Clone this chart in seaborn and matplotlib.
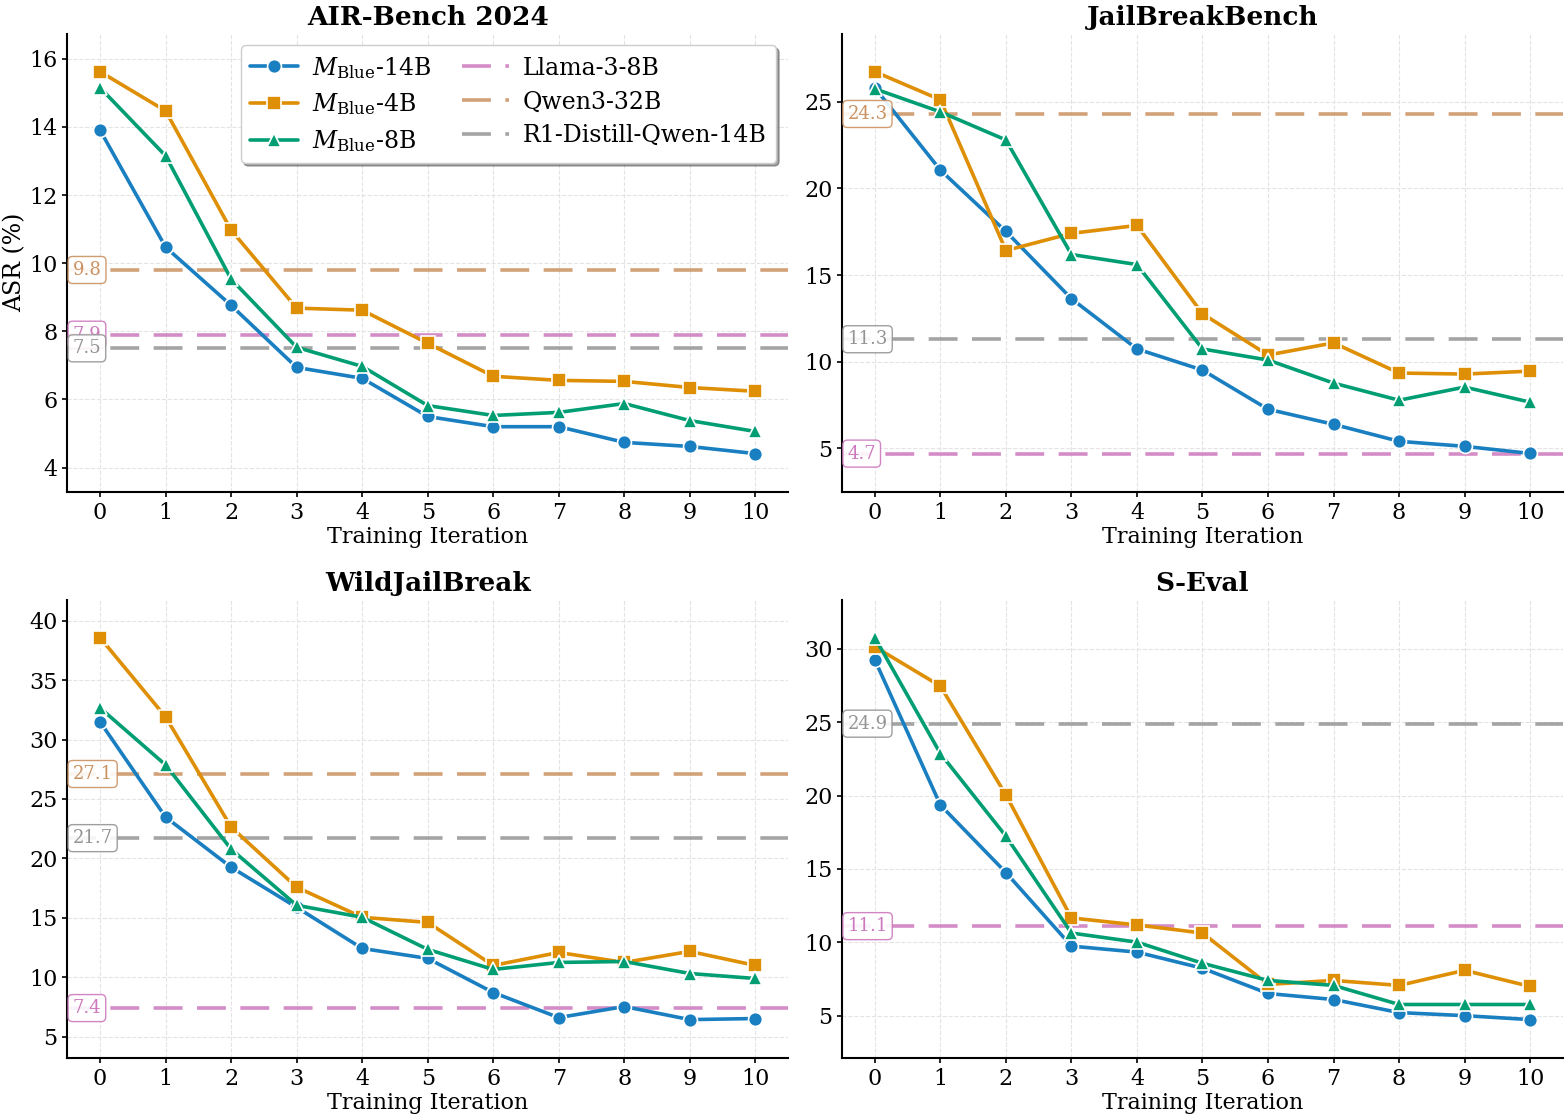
import pandas as pd
import matplotlib.pyplot as plt
import seaborn as sns
import numpy as np

# datos
iters = list(range(11))
titles = ['AIR-Bench 2024', 'JailBreakBench', 'WildJailBreak', 'S-Eval']

blue_14b = [
    [13.9, 10.47, 8.76, 6.94, 6.62, 5.5, 5.2, 5.2, 4.74, 4.62, 4.41],
    [25.81, 21.06, 17.52, 13.64, 10.74, 9.52, 7.26, 6.39, 5.41, 5.12, 4.71],
    [31.48, 23.47, 19.25, 15.88, 12.42, 11.58, 8.71, 6.6, 7.53, 6.43, 6.52],
    [29.24, 19.35, 14.75, 9.74, 9.33, 8.23, 6.51, 6.1, 5.21, 5.0, 4.73],
]
blue_4b = [
    [15.62, 14.47, 10.97, 8.68, 8.62, 7.65, 6.68, 6.56, 6.53, 6.35, 6.24],
    [26.74, 25.12, 16.42, 17.41, 17.87, 12.77, 10.39, 11.09, 9.35, 9.29, 9.46],
    [38.57, 31.9, 22.63, 17.57, 15.04, 14.61, 10.99, 12.08, 11.24, 12.17, 10.99],
    [30.14, 27.46, 20.04, 11.66, 11.18, 10.63, 7.13, 7.4, 7.06, 8.09, 6.99],
]
blue_8b = [
    [15.15, 13.15, 9.53, 7.53, 6.97, 5.82, 5.53, 5.62, 5.88, 5.38, 5.06],
    [25.75, 24.42, 22.8, 16.19, 15.61, 10.74, 10.1, 8.77, 7.78, 8.54, 7.67],
    [32.66, 27.86, 20.77, 16.05, 15.04, 12.34, 10.65, 11.24, 11.32, 10.31, 9.89],
    [30.76, 22.86, 17.23, 10.63, 10.01, 8.57, 7.4, 7.06, 5.76, 5.76, 5.76],
]

# lineas de referencia (None = no aparece)
llama = [7.9, 4.7, 7.4, 11.1]
qwen32 = [9.8, 24.3, 27.1, None]
r1_distill = [7.5, 11.3, 21.7, 24.9]

pal = sns.color_palette('colorblind')
series = [
    (r'$M_{\mathrm{Blue}}$-14B', blue_14b, '#1a7fc1', 'o'),
    (r'$M_{\mathrm{Blue}}$-4B', blue_4b, pal[1], 's'),
    (r'$M_{\mathrm{Blue}}$-8B', blue_8b, pal[2], '^'),
]
baselines = [
    ('Llama-3-8B', llama, pal[4]),
    ('Qwen3-32B', qwen32, pal[5]),
    ('R1-Distill-Qwen-14B', r1_distill, pal[7]),
]

sns.set_style('ticks')
plt.rcParams['font.family'] = ['DejaVu Serif']
plt.rcParams['mathtext.fontset'] = 'dejavuserif'
plt.rcParams['text.color'] = 'black'
plt.rcParams['axes.labelcolor'] = 'black'
plt.rcParams['xtick.color'] = 'black'
plt.rcParams['ytick.color'] = 'black'
plt.rcParams['axes.edgecolor'] = 'black'
plt.rcParams['axes.linewidth'] = 1.5

fig, axes = plt.subplots(2, 2, figsize=(15.66, 11.17), dpi=100)
axes = axes.flatten()

dash = (0, (8, 4))
for i, ax in enumerate(axes):
    for name, vals, col, mk in series:
        df = pd.DataFrame({'it': iters, 'asr': vals[i]})
        sns.lineplot(data=df, x='it', y='asr', ax=ax, color=col, marker=mk,
                     markersize=10, markeredgecolor='white', markeredgewidth=1.2,
                     linewidth=2.6, label=name, zorder=3)
    for name, vals, col in baselines:
        v = vals[i]
        if v is None:
            ax.plot([], [], color=col, linestyle=dash, linewidth=2.6,
                    alpha=0.85, label=name)
            continue
        ax.axhline(v, color=col, linestyle=dash, linewidth=2.6,
                   alpha=0.85, label=name, zorder=1)
        ax.text(-0.42, v, f'{v:.1f}', color=col, fontsize=13, ha='left',
                va='center', zorder=4,
                bbox=dict(boxstyle='round,pad=0.25', facecolor='white',
                          edgecolor=col, alpha=0.9))

    ax.set_xlim(-0.5, 10.5)
    ax.margins(y=0.1)
    ax.set_xticks(iters)
    ax.set_title(titles[i], fontsize=19, fontweight='bold')
    ax.set_xlabel('Training Iteration', fontsize=16, labelpad=2)
    ax.set_ylabel('ASR (%)' if i == 0 else '', fontsize=17, labelpad=2)
    ax.tick_params(labelsize=16, width=1.2)
    ax.grid(True, linestyle='--', color='#e3e3e3', linewidth=0.8)
    sns.despine(ax=ax)
    if i == 0:
        ax.legend(loc='upper right', ncol=2, fontsize=17, frameon=True,
                  shadow=True, fancybox=True, handlelength=2.0,
                  columnspacing=1.3, borderpad=0.4, labelspacing=0.45,
                  handletextpad=0.6)
    else:
        ax.get_legend().remove()

plt.subplots_adjust(left=0.043, right=0.998, top=0.970, bottom=0.053,
                    hspace=0.235, wspace=0.075)
plt.savefig('out.png')
